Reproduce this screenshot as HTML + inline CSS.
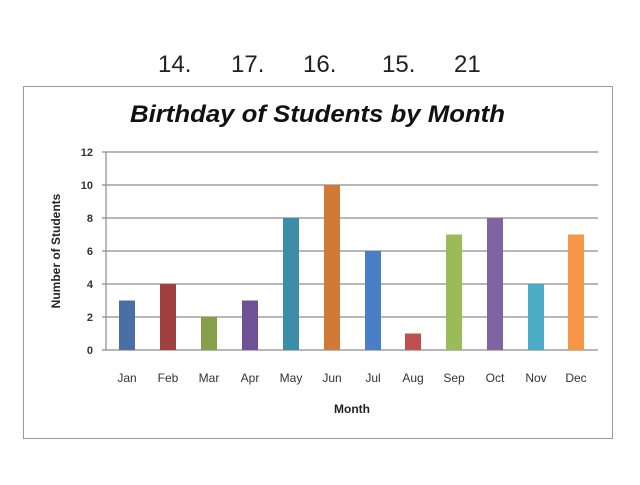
<!DOCTYPE html>
<html><head><style>
body{margin:0;width:640px;height:480px;background:#fff;overflow:hidden;font-family:"Liberation Sans",sans-serif}
</style></head><body>
<svg width="640" height="480" xmlns="http://www.w3.org/2000/svg" font-family="Liberation Sans, sans-serif">
<g font-size="24" fill="#222">
<text x="158" y="72">14.</text><text x="231" y="72">17.</text><text x="303" y="72">16.</text><text x="382" y="72">15.</text><text x="454" y="72">21</text>
</g>
<rect x="23.5" y="86.5" width="589" height="352" fill="#fff" stroke="#999"/>
<text x="130" y="122" textLength="375" lengthAdjust="spacingAndGlyphs" font-size="24" font-weight="bold" font-style="italic" fill="#111">Birthday of Students by Month</text>
<g stroke="#8c8c8c" stroke-width="1.2">
<line x1="102" x2="598" y1="152" y2="152"/><line x1="102" x2="598" y1="185" y2="185"/>
<line x1="102" x2="598" y1="218" y2="218"/><line x1="102" x2="598" y1="251" y2="251"/>
<line x1="102" x2="598" y1="284" y2="284"/><line x1="102" x2="598" y1="317" y2="317"/>
<line x1="102" x2="598" y1="350" y2="350"/><line x1="106" x2="106" y1="152" y2="350"/>
</g>
<g font-size="11" font-weight="bold" fill="#333" text-anchor="end">
<text x="93" y="156">12</text><text x="93" y="189">10</text><text x="93" y="222">8</text><text x="93" y="255">6</text><text x="93" y="288">4</text><text x="93" y="321">2</text><text x="93" y="354">0</text>
</g>
<g>
<rect x="119" y="300.5" width="16" height="49.5" fill="#4a6fa5"/>
<rect x="160" y="284" width="16" height="66" fill="#a04040"/>
<rect x="201" y="317" width="16" height="33" fill="#86a04a"/>
<rect x="242" y="300.5" width="16" height="49.5" fill="#6f5296"/>
<rect x="283" y="218" width="16" height="132" fill="#3b8ea5"/>
<rect x="324" y="185" width="16" height="165" fill="#d07a35"/>
<rect x="365" y="251" width="16" height="99" fill="#4a7fc8"/>
<rect x="405" y="333.5" width="16" height="16.5" fill="#c0504d"/>
<rect x="446" y="234.5" width="16" height="115.5" fill="#9bbb59"/>
<rect x="487" y="218" width="16" height="132" fill="#8064a2"/>
<rect x="528" y="284" width="16" height="66" fill="#4bacc6"/>
<rect x="568" y="234.5" width="16" height="115.5" fill="#f79646"/>
</g>
<g font-size="12" fill="#333" text-anchor="middle">
<text x="127" y="382">Jan</text><text x="168" y="382">Feb</text><text x="209" y="382">Mar</text><text x="250" y="382">Apr</text><text x="291" y="382">May</text><text x="332" y="382">Jun</text><text x="373" y="382">Jul</text><text x="413" y="382">Aug</text><text x="454" y="382">Sep</text><text x="495" y="382">Oct</text><text x="536" y="382">Nov</text><text x="576" y="382">Dec</text>
</g>
<text x="352" y="413" text-anchor="middle" font-size="12" font-weight="bold" fill="#222">Month</text>
<text transform="translate(60,251) rotate(-90)" text-anchor="middle" font-size="12" font-weight="bold" fill="#222">Number of Students</text>
</svg>
</body></html>
